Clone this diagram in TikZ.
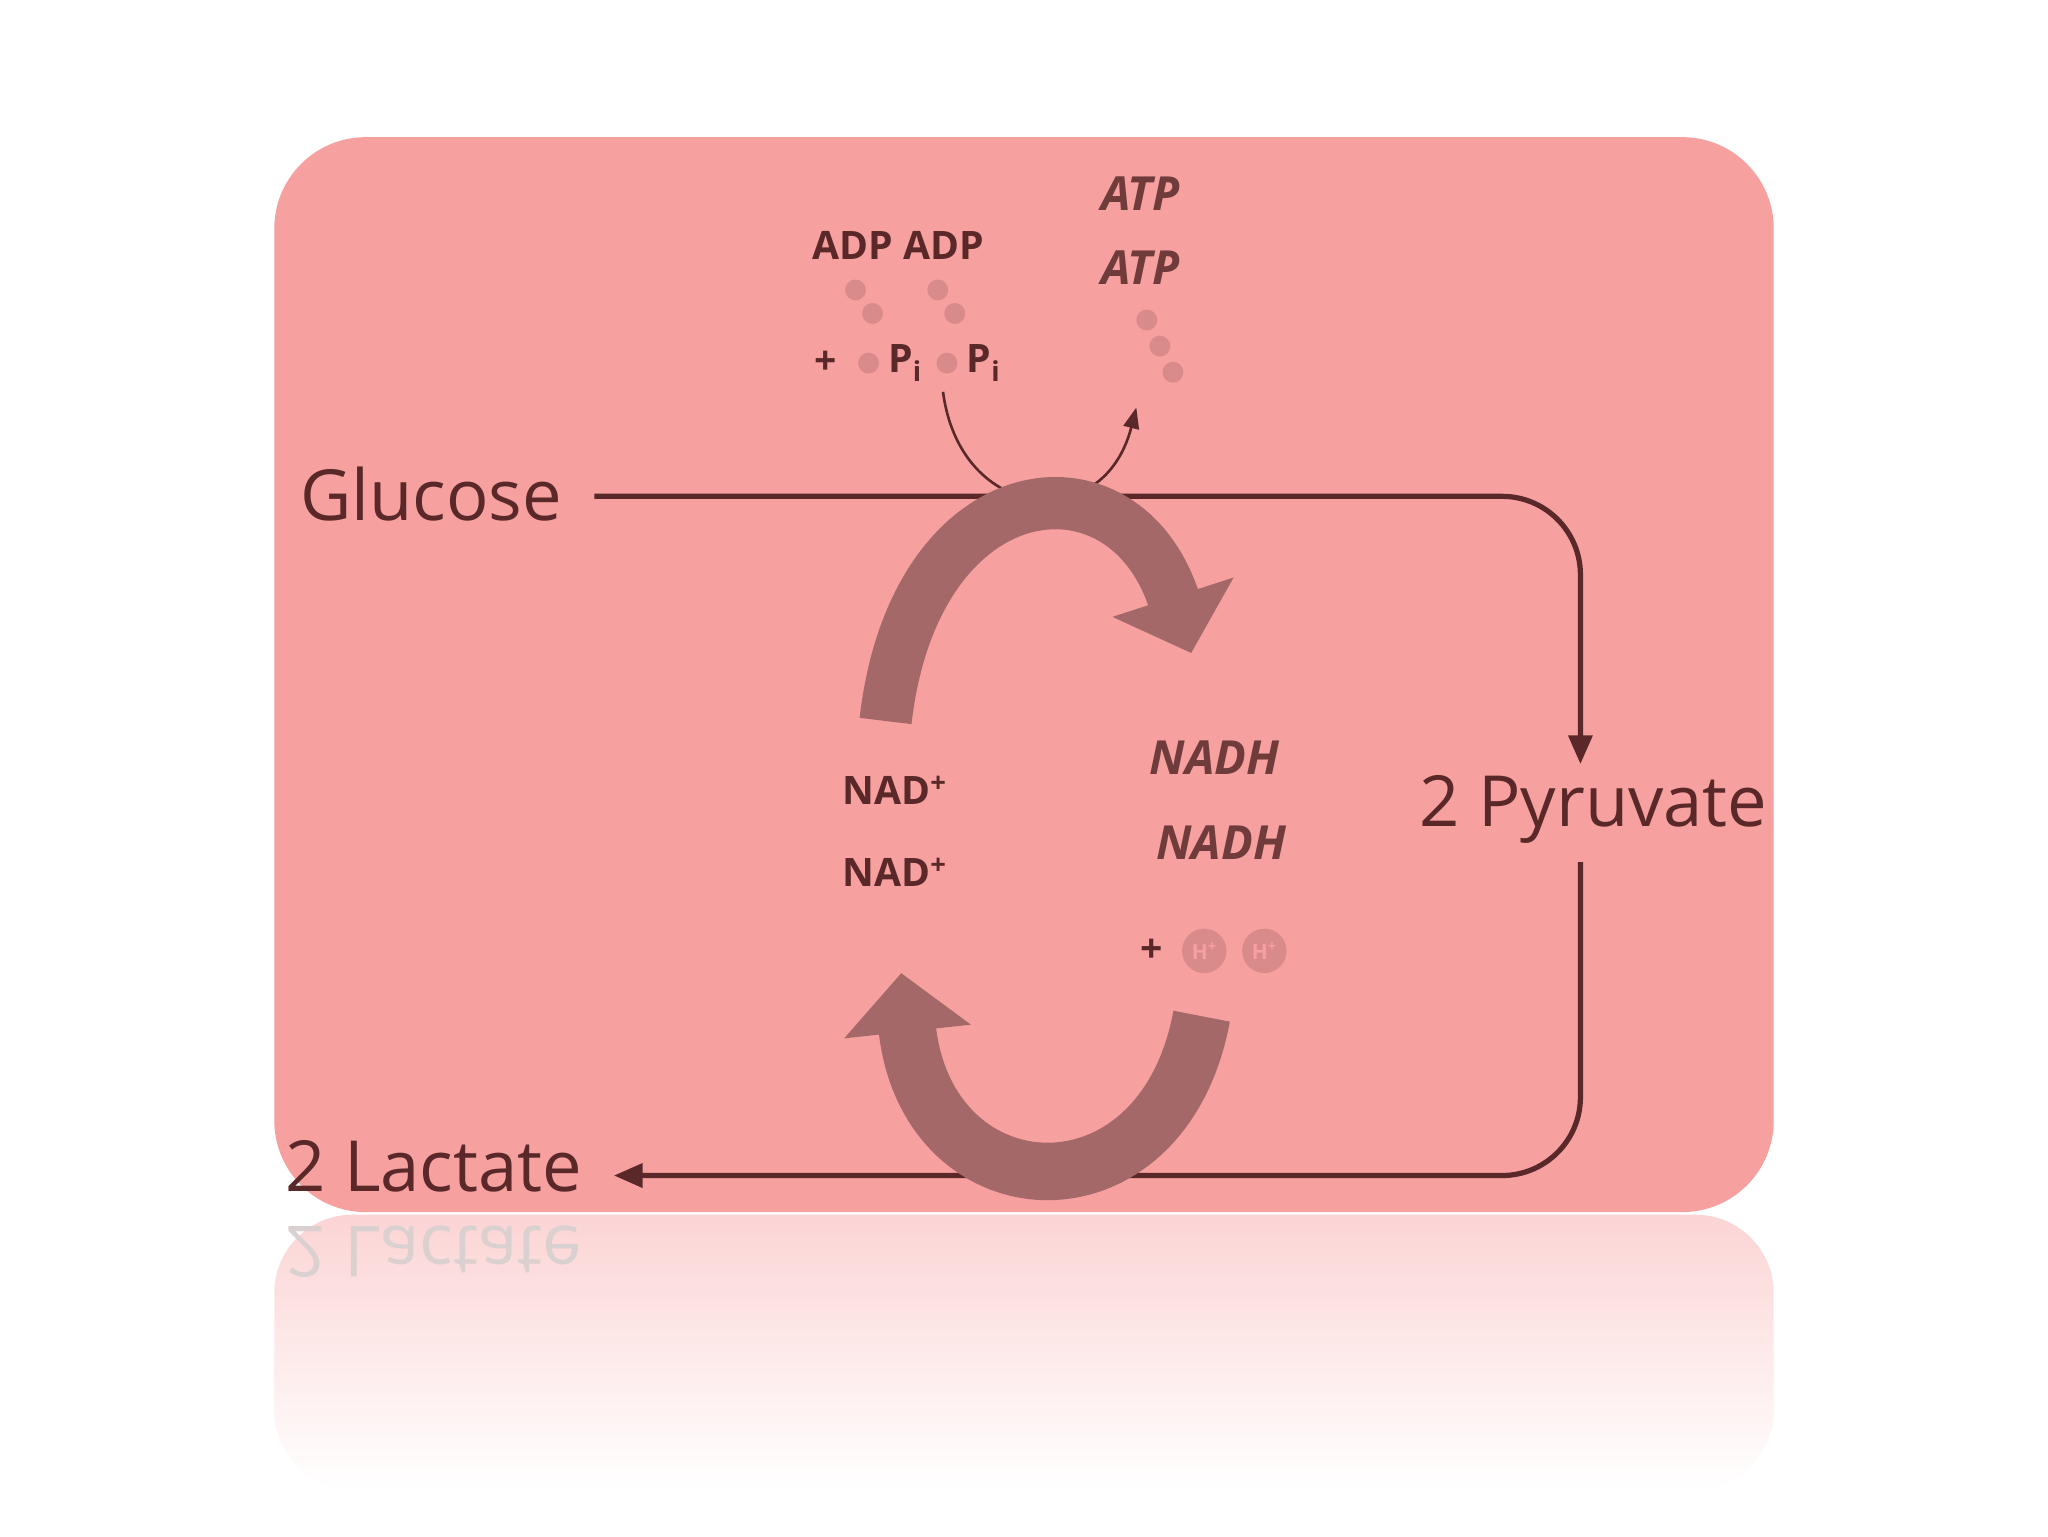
\documentclass[tikz,border=0pt]{standalone}
\usepackage{fontspec}
\setmainfont{Open Sans}
\usetikzlibrary{arrows.meta}
\definecolor{bg}{HTML}{F7A0A0}
\definecolor{ink}{HTML}{5A2828}
\definecolor{arr}{HTML}{A56868}
\definecolor{blob}{HTML}{D98A8A}
\tikzset{
  thin arrow/.style={draw=ink, line width=4pt, -{Triangle[length=22pt,width=18pt]}},
  fat arrow/.style={draw=arr, line width=40pt, -{Triangle[length=45pt,width=95pt]}},
  big/.style={font=\fontsize{54}{58}\selectfont, text=ink},
  small/.style={font=\bfseries\fontsize{30}{34}\selectfont, text=ink},
  outl/.style={font=\bfseries\itshape\fontsize{36}{38}\selectfont, text=ink!70!arr},
  pb/.style={circle, fill=blob, inner sep=0pt, minimum size=16pt}
}
\begin{document}
\begin{tikzpicture}[x=1pt,y=-1pt]
\useasboundingbox (0,0) rectangle (1568,1176);
\fill[white] (0,0) rectangle (1568,1176);
% reflection
\shade[top color=bg!45, bottom color=white, rounded corners=60] (210,930) rectangle (1358,1140);
\node[big, text=ink!22, yscale=-1, anchor=west] (refl) at (215,958) {2 Lactate};
% card
\fill[bg, rounded corners=70] (210,105) rectangle (1358,928);
% main path
\node[big] (glu) at (330,378) {Glucose};
\node[big] (pyr) at (1220,620) {2 Pyruvate};
\node[big, anchor=west] (lac) at (215,893) {2 Lactate};
\coordinate (gstart) at (455,380);
\coordinate (gend) at (1210,585);
\coordinate (pstart) at (1210,660);
\coordinate (lend) at (470,900);
\draw[thin arrow, rounded corners=60] (gstart) -- (1210,380) -- (gend);
\draw[thin arrow, rounded corners=60] (pstart) -- (1210,900) -- (lend);
% top ADP/ATP
\node[small] (adp) at (688,188) {ADP ADP};
\node[small] (pl) at (632,278) {+};
\node[pb] (b1) at (665,278) {};
\node[small] (p1) at (693,278) {P\textsubscript{i}};
\node[pb] (b2) at (725,278) {};
\node[small] (p2) at (753,278) {P\textsubscript{i}};
\node[pb] (a1) at (655,222) {}; \node[pb] (a2) at (668,240) {};
\node[pb] (a3) at (718,222) {}; \node[pb] (a4) at (731,240) {};
\node[outl] (atp1) at (873,148) {ATP};
\node[outl] (atp2) at (873,205) {ATP};
\node[pb] (c1) at (878,245) {}; \node[pb] (c2) at (888,265) {}; \node[pb] (c3) at (898,285) {};
\coordinate (tin) at (722,300);
\coordinate (tout) at (870,312);
\draw[ink, line width=2pt, -{Triangle[length=16pt,width=12pt]}] (tin) .. controls (735,400) and (845,410) .. (tout);
% fat arrows
\draw[fat arrow] (678,552) .. controls (700,360) and (860,340) .. (912,500);
\draw[fat arrow, line width=44pt] (920,778) .. controls (890,940) and (710,930) .. (690,745);
% NAD / NADH
\node[small] (nad1) at (685,605) {NAD\textsuperscript{+}};
\node[small] (nad2) at (685,668) {NAD\textsuperscript{+}};
\node[outl] (nadh1) at (930,580) {NADH};
\node[outl] (nadh2) at (935,645) {NADH};
\node[small] (plus) at (882,728) {+};
\node[circle, fill=blob, inner sep=0pt, minimum size=34pt, font=\bfseries\fontsize{16}{16}\selectfont, text=bg] (h1) at (922,728) {H\textsuperscript{+}};
\node[circle, fill=blob, inner sep=0pt, minimum size=34pt, font=\bfseries\fontsize{16}{16}\selectfont, text=bg] (h2) at (968,728) {H\textsuperscript{+}};
\end{tikzpicture}
\end{document}
